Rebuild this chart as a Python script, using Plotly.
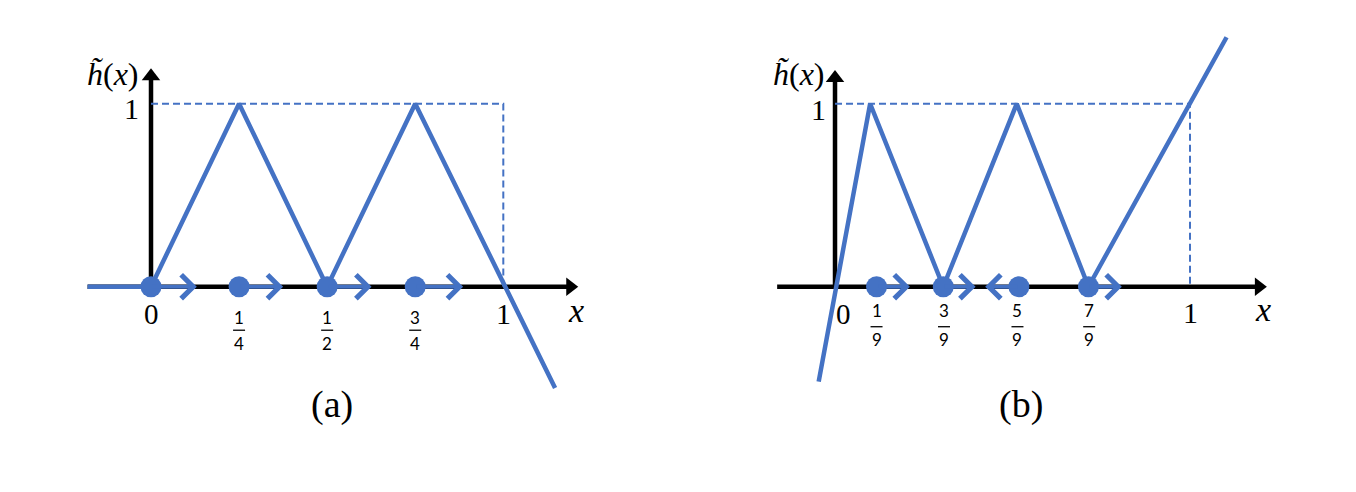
import plotly.graph_objects as go

BLUE = "#4472C4"

# panel (a): h(x) with fixed points at 0, 1/4, 1/2, 3/4
a_curve_x = [-0.18, 0, 0.25, 0.5, 0.75, 1.147]
a_curve_y = [0, 0, 1, 0, 1, -0.554]
a_fixed_x = [0, 0.25, 0.5, 0.75]
a_arrow_to = [0.13, 0.375, 0.626, 0.886]
a_frac_num = ["1", "1", "3"]
a_frac_den = ["4", "2", "4"]
a_frac_x = [0.25, 0.5, 0.75]

# panel (b): fixed points at 1/9, 3/9, 5/9, 7/9 (as drawn)
b_curve_x = [-0.046, 0.099, 0.305, 0.512, 0.714, 1.103]
b_curve_y = [-0.519, 1, 0, 1, 0, 1.363]
b_fixed_x = [0.117, 0.305, 0.518, 0.714]
b_arrow_to = [0.211, 0.396, 0.423, 0.808]
b_frac_num = ["1", "3", "5", "7"]
b_frac_den = ["9", "9", "9", "9"]
b_frac_x = [0.117, 0.307, 0.514, 0.716]

SERIF = "Liberation Serif"
SANS = "Lato"

fig = go.Figure()


def add_panel(xa, ya, curve_x, curve_y, fixed_x, arrow_to, x_from, x_to, y_to):
    common = dict(xaxis=xa, yaxis=ya, showlegend=False, hoverinfo="skip")
    # black axes with triangle heads
    fig.add_trace(go.Scatter(x=[x_from, x_to], y=[0, 0], mode="lines",
                             line=dict(color="black", width=4.5), **common))
    fig.add_trace(go.Scatter(x=[0, 0], y=[0, y_to], mode="lines",
                             line=dict(color="black", width=4.5), **common))
    fig.add_trace(go.Scatter(x=[x_to], y=[0], mode="markers",
                             marker=dict(symbol="triangle-right", size=16, color="black"), **common))
    fig.add_trace(go.Scatter(x=[0], y=[y_to], mode="markers",
                             marker=dict(symbol="triangle-up", size=16, color="black"), **common))
    # dashed guide box at h=1, x=1
    fig.add_trace(go.Scatter(x=[0, 1, 1], y=[1, 1, 0], mode="lines",
                             line=dict(color=BLUE, width=2, dash="7px,4px"), **common))
    # the map itself
    fig.add_trace(go.Scatter(x=curve_x, y=curve_y, mode="lines",
                             line=dict(color=BLUE, width=4.5), **common))
    # fixed points
    fig.add_trace(go.Scatter(x=fixed_x, y=[0] * len(fixed_x), mode="markers",
                             marker=dict(color=BLUE, size=21), **common))
    # flow arrows
    for x0, x1 in zip(fixed_x, arrow_to):
        fig.add_annotation(x=x1, y=0, ax=x0, ay=0, xref=xa, yref=ya, axref=xa, ayref=ya,
                           text="", showarrow=True, arrowhead=4, arrowsize=1.15,
                           arrowwidth=4, arrowcolor=BLUE)


def label(text, x, y, xa, ya, size, family, xshift=0, yshift=0, xanchor="center"):
    fig.add_annotation(x=x, y=y, xref=xa, yref=ya, text=text, showarrow=False,
                       font=dict(size=size, family=family, color="black"),
                       xanchor=xanchor, yanchor="middle", xshift=xshift, yshift=yshift)


def fractions(xs, nums, dens, xa, ya, num_y, bar_y, den_y):
    for x, n, d in zip(xs, nums, dens):
        label(n, x, 0, xa, ya, 17, SANS, yshift=num_y)
        label(d, x, 0, xa, ya, 17, SANS, yshift=den_y)
        # fraction bar, sized in pixels around the tick position
        fig.add_shape(type="line", xref=xa, yref=ya, xsizemode="pixel", ysizemode="pixel",
                      xanchor=x, yanchor=0, x0=-6, x1=6, y0=bar_y, y1=bar_y,
                      line=dict(color="black", width=1.3))


add_panel("x", "y", a_curve_x, a_curve_y, a_fixed_x, a_arrow_to, -0.18, 1.19, 1.15)
add_panel("x2", "y2", b_curve_x, b_curve_y, b_fixed_x, b_arrow_to, -0.163, 1.194, 1.14)

# panel (a) text
label("<i>h̃</i>(<i>x</i>)", 0, 1.16, "x", "y", 32, SERIF, xshift=-10, xanchor="right")
label("1", 0, 1, "x", "y", 30, SERIF, xshift=-10, yshift=-5, xanchor="right")
label("0", 0, 0, "x", "y", 29, SERIF, yshift=-27)
label("1", 1, 0, "x", "y", 30, SERIF, yshift=-27)
label("<i>x</i>", 1.206, 0, "x", "y", 34, SERIF, yshift=-24)
fractions(a_frac_x, a_frac_num, a_frac_den, "x", "y", -31, -43.5, -57)

# panel (b) text
label("<i>h̃</i>(<i>x</i>)", 0, 1.16, "x2", "y2", 32, SERIF, xshift=-8, xanchor="right")
label("1", 0, 1, "x2", "y2", 30, SERIF, xshift=-7, yshift=-6, xanchor="right")
label("0", 0, 0, "x2", "y2", 29, SERIF, xshift=8, yshift=-27)
label("1", 1, 0, "x2", "y2", 30, SERIF, yshift=-26)
label("<i>x</i>", 1.206, 0, "x2", "y2", 34, SERIF, yshift=-23)
fractions(b_frac_x, b_frac_num, b_frac_den, "x2", "y2", -23.5, -40, -53)

# captions
for cap, cx in [("(a)", 0.2418), ("(b)", 0.756)]:
    fig.add_annotation(x=cx, y=0.166, xref="paper", yref="paper", text=cap, showarrow=False,
                       xanchor="center", yanchor="middle",
                       font=dict(size=38, family=SERIF, color="black"))

# the page body adds an 8px margin, so the figure is laid out 16px smaller
yrange = [-1.078, 1.523]
fig.update_layout(
    width=1340,
    height=476,
    margin=dict(l=0, r=0, t=0, b=0),
    plot_bgcolor="white",
    paper_bgcolor="white",
    showlegend=False,
    xaxis=dict(domain=[0, 0.5], range=[-0.4059, 1.4959], visible=False),
    yaxis=dict(range=yrange, visible=False),
    xaxis2=dict(domain=[0.5, 1], range=[-0.4423, 1.4451], visible=False, anchor="y2"),
    yaxis2=dict(range=yrange, visible=False, anchor="x2"),
)

fig.write_html("out.html")
